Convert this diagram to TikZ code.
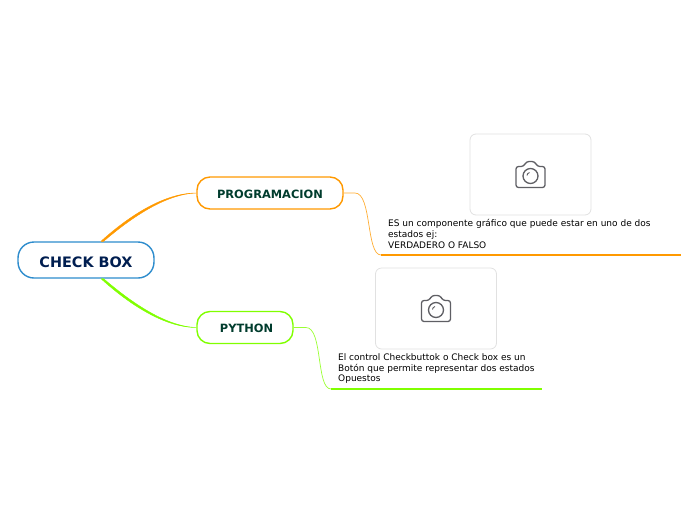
\documentclass[tikz,border=0pt]{standalone}
\usepackage{fontspec}
\setmainfont{DejaVu Sans}
\usetikzlibrary{positioning, calc}
\definecolor{rootblue}{RGB}{45, 140, 205}
\definecolor{rootink}{RGB}{0, 30, 80}
\definecolor{topicink}{RGB}{0, 60, 45}
\definecolor{branchorange}{RGB}{255, 153, 0}
\definecolor{branchgreen}{RGB}{128, 255, 0}
\definecolor{photoline}{RGB}{225, 225, 225}
\definecolor{iconink}{RGB}{95, 95, 100}
\tikzset{
    rootnode/.style={rectangle, draw=rootblue, fill=white, line width=1.4pt, rounded corners=16pt, minimum width=136pt, minimum height=36pt, text height=14pt, text depth=0pt, font=\fontsize{14.4}{16}\selectfont\bfseries, text=rootink},
    topic/.style={rectangle, draw, fill=white, line width=1.4pt, rounded corners=13pt, minimum height=32pt, text height=10.5pt, text depth=0pt, font=\fontsize{11.4}{13}\selectfont\bfseries, text=topicink},
    photo/.style={rectangle, draw=photoline, fill=white, line width=0.8pt, rounded corners=6pt, minimum width=121pt, minimum height=81pt},
    leaf/.style={align=left, anchor=north west, inner sep=0pt, font=\fontsize{9}{10.7}\selectfont, text=black},
    branch/.style={line width=0.4pt, line join=round},
    twig/.style={line width=0.7pt},
    underline/.style={line width=2.6pt},
    camera/.pic={
        \draw[iconink, line width=1.3pt, line join=round, rounded corners=2.5pt]
            (-14.5,-8.5) -- (-7,-8.5) -- (-4,-13.5) -- (4,-13.5) -- (7,-8.5) -- (14.5,-8.5) -- (14.5,12.5) -- (-14.5,12.5) -- cycle;
        \draw[iconink, line width=1.3pt] (0,1) circle (7.5);
        \draw[iconink, line width=0.9pt] (-3.5,0.5) .. controls (-3.5,-1) and (-2.5,-2) .. (-1,-2.5);
    }
}
\begin{document}
\begin{tikzpicture}[x=1pt, y=-1pt]
    \useasboundingbox (0,0) rectangle (696,520);

    \node[rootnode] (root) at (86,260) {CHECK BOX};
    \node[topic, draw=branchorange, minimum width=146pt] (programacion) at (270,193) {PROGRAMACION};
    \node[topic, draw=branchgreen, minimum width=96pt] (python) at (245,327.5) {\hspace{3pt}PYTHON};

    \node[photo] (photoa) at (530.5,174.5) {};
    \node[photo] (photob) at (436,308.5) {};
    \pic at (530.5,175) {camera};
    \pic at (436,309) {camera};

    \node[leaf] (leafa) at (388,219.5) {ES un componente gráfico que puede estar en uno de dos\\estados ej:\\VERDADERO O FALSO};
    \node[leaf] (leafb) at (338,353.5) {El control Checkbuttok o Check box es un\\Botón que permite representar dos estados\\Opuestos};

    \coordinate (rootup) at ($(root.north west)+(85,0)$);
    \coordinate (rootdown) at ($(root.south west)+(85,0)$);
    \coordinate (starta) at (381,255);
    \coordinate (enda) at (681,255);
    \coordinate (startb) at (331,389);
    \coordinate (endb) at (542,389);

    \filldraw[branch, draw=branchorange, fill=branchorange]
        ($(rootup)+(-1.3,0)$) .. controls (130,215) and (165,193) .. (programacion.west)
        .. controls (166,194) and (132,217) .. ($(rootup)+(1.3,0)$) -- cycle;
    \filldraw[branch, draw=branchgreen, fill=branchgreen]
        ($(rootdown)+(-1.3,0)$) .. controls (130,305) and (165,327.5) .. (python.west)
        .. controls (166,326.5) and (132,303) .. ($(rootdown)+(1.3,0)$) -- cycle;

    \draw[twig, branchorange!80] (programacion.east) -- (355,193) .. controls (372,193) and (366,255) .. (starta);
    \draw[underline, branchorange] (starta) -- (enda);
    \draw[twig, branchgreen!80] (python.east) -- (306,327.5) .. controls (323,327.5) and (316,389) .. (startb);
    \draw[underline, branchgreen] (startb) -- (endb);
\end{tikzpicture}
\end{document}
